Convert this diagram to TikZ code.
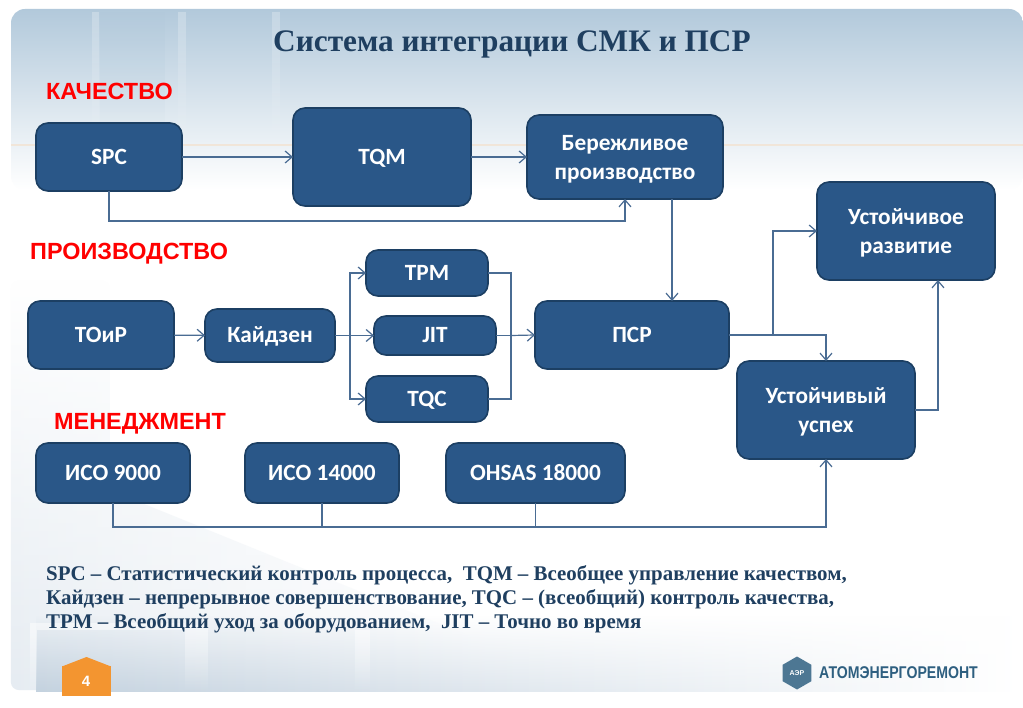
\documentclass[tikz,border=0pt]{standalone}
\usepackage{fontspec}
\setmainfont{Liberation Serif}
\newfontfamily\boxfont{Carlito}
\newfontfamily\headfont{Liberation Sans}
\usetikzlibrary{arrows.meta,shapes.geometric,fadings}
\definecolor{boxblue}{HTML}{2A5788}
\definecolor{boxedge}{HTML}{1C3F63}
\definecolor{linkblue}{HTML}{4A6C93}
\definecolor{titleblue}{HTML}{1F3F60}
\definecolor{panelblue}{HTML}{B2C9DB}
\definecolor{panelmid}{HTML}{DDE7EF}
\definecolor{palegrey}{HTML}{E6ECF2}
\definecolor{stripblue}{HTML}{C4D2DF}
\definecolor{pageorange}{HTML}{F39530}
\definecolor{logoblue}{HTML}{2E5F80}

\begin{document}
\begin{tikzpicture}[x=1pt, y=-1pt,
      box/.style = {shape=rectangle, rounded corners=12pt, draw=boxedge, line width=1.6pt,
        fill=boxblue, text=white, align=center, inner sep=0pt, outer sep=0pt, text depth=0pt,
        font=\boxfont\bfseries\fontsize{23.3}{29}\selectfont},
      oneline/.style = {text height=15pt},
      boxsize/.style 2 args = {minimum width=#1pt, minimum height=#2pt},
      link/.style = {draw=linkblue, line width=1.2pt, -{Straight Barb[length=7pt,width=12pt]}},
      plain/.style = {draw=linkblue, line width=1.2pt},
      heading/.style = {text=red, inner sep=0pt, font=\headfont\bfseries\fontsize{23.4}{26}\selectfont},
      legend/.style = {text=titleblue, inner sep=0pt, anchor=base west, font=\bfseries\fontsize{20.9}{23}\selectfont}]
      \useasboundingbox (0,0) rectangle (1023,708);
      \fill[white] (0,0) rectangle (1023,708);
      % background
      \shade[left color=palegrey, right color=white, path fading=north, rounded corners=8pt] (11,280) -- (110,280) -- (110,490) -- (480,640) -- (480,690) -- (11,690) -- cycle;
      \shade[left color=stripblue, right color=white, path fading=north] (37,615) rectangle (1023,692);
      \shade[top color=panelblue, middle color=panelmid, bottom color=white, rounded corners=14pt] (11,9) -- (1023,9) -- (1023,190) -- (11,190) -- cycle;
      \fill[panelblue, opacity=0.3, path fading=south] (100,12) rectangle (165,140);
      \fill[white, opacity=0.25, path fading=south] (92,12) rectangle (99,150);
      \fill[white, opacity=0.25, path fading=south] (178,12) rectangle (186,150);
      \fill[white, opacity=0.25, path fading=south] (272,12) rectangle (280,150);
      \fill[orange!40, opacity=0.3] (11,144) rectangle (1023,146);
      \fill[white, opacity=0.5] (30,623) rectangle (185,630);
      \fill[white, opacity=0.5, path fading=south] (30,630) rectangle (37,692);
      \fill[white, opacity=0.5, path fading=south] (185,625) rectangle (208,692);
      \fill[white, opacity=0.5, path fading=south] (355,630) rectangle (370,692);
      % footer
      \node[shape=regular polygon, regular polygon sides=6, shape border rotate=30, fill=logoblue!85, minimum size=33pt, inner sep=0pt] (hexlogo) at (797,673) {};
      \node[text=white, inner sep=0pt, font=\headfont\bfseries\fontsize{7}{8}\selectfont] (hextext) at (797,673) {АЭР};
      \node[text=logoblue, inner sep=0pt, anchor=west, xscale=0.83, font=\headfont\bfseries\fontsize{17}{20}\selectfont] (company) at (819,673) {АТОМЭНЕРГОРЕМОНТ};
      \node[shape=rectangle, fill=pageorange, minimum width=49pt, minimum height=30pt, inner sep=0pt] (pagebox) at (86.5,681) {};
      \fill[pageorange] (62,666.5) -- (86.5,657) -- (111,666.5) -- cycle;
      \node[text=white, inner sep=0pt, font=\headfont\bfseries\fontsize{15}{16}\selectfont] (pagenum) at (86,681) {4};
      % texts
      \node[text=titleblue, inner sep=0pt, font=\bfseries\fontsize{31.3}{34}\selectfont] (title) at (512,44) {Система интеграции СМК и ПСР};
      \node[heading, anchor=west] (quality) at (46,91) {КАЧЕСТВО};
      \node[heading, anchor=west] (production) at (30,254) {ПРОИЗВОДСТВО};
      \node[heading, anchor=west] (management) at (54,424) {МЕНЕДЖМЕНТ};
      \node[legend] (legenda) at (46,580) {SPC -- Статистический контроль процесса,\ \ TQM -- Всеобщее управление качеством,};
      \node[legend] (legendb) at (46,604) {Кайдзен -- непрерывное совершенствование, TQC -- (всеобщий) контроль качества,};
      \node[legend] (legendc) at (46,628) {TPM -- Всеобщий уход за оборудованием,\ \ JIT -- Точно во время};
      % boxes
      \node[box, oneline, boxsize={146}{68}] (spc) at (109,157) {SPC};
      \node[box, oneline, boxsize={178}{98}] (tqm) at (382,157) {TQM};
      \node[box, boxsize={196}{84}] (lean) at (625,157) {Бережливое\\производство};
      \node[box, boxsize={178}{98}] (sustdev) at (906,231) {Устойчивое\\развитие};
      \node[box, oneline, boxsize={122}{46}] (tpm) at (427,273) {TPM};
      \node[box, oneline, boxsize={122}{39}] (jit) at (435,335.5) {JIT};
      \node[box, oneline, boxsize={122}{46}] (tqc) at (427,399) {TQC};
      \node[box, oneline, boxsize={146}{68}] (toir) at (101,335) {ТОиР};
      \node[box, oneline, boxsize={130}{53}] (kaizen) at (270,335.5) {Кайдзен};
      \node[box, oneline, boxsize={194}{68}] (psr) at (632,335) {ПСР};
      \node[box, boxsize={178}{98}] (success) at (826,410) {Устойчивый\\успех};
      \node[box, oneline, boxsize={154}{60}] (iso9000) at (113,473) {ИСО 9000};
      \node[box, oneline, boxsize={154}{60}] (iso14000) at (322,473) {ИСО 14000};
      \node[box, oneline, boxsize={179}{60}] (ohsas) at (535.5,473) {OHSAS 18000};
      \coordinate (split) at (350,335.5);
      \coordinate (merge) at (511,335.5);
      \coordinate (fork) at (773,335);
      \coordinate (busa) at (322,527);
      \coordinate (busb) at (535.5,527);
      % connectors
      \draw[link] (spc) -- (tqm);
      \draw[link] (tqm) -- (lean);
      \draw[link] (spc.south) -- ++(0,30) -| (lean.south);
      \draw[link] ([xshift=47pt]lean.south) -- ([xshift=40pt]psr.north);
      \draw[link] (toir) -- (kaizen);
      \draw[link] (kaizen) -- (jit);
      \draw[link] (split) |- (tpm.west);
      \draw[link] (split) |- (tqc.west);
      \draw[plain] (tpm.east) -| (merge);
      \draw[plain] (tqc.east) -| (merge);
      \draw[plain] (jit.east) -- (merge);
      \draw[link] (merge) -- (psr.west);
      \draw[plain] (psr.east) -- (fork);
      \draw[link] (fork) |- (sustdev.west);
      \draw[link] (fork) -| (success.north);
      \draw[link] (success.east) -| ([xshift=32pt]sustdev.south);
      \draw[link] (iso9000.south) -- ++(0,24) -| (success.south);
      \draw[plain] (iso14000.south) -- (busa);
      \draw[plain] (ohsas.south) -- (busb);
  \end{tikzpicture}
\end{document}
